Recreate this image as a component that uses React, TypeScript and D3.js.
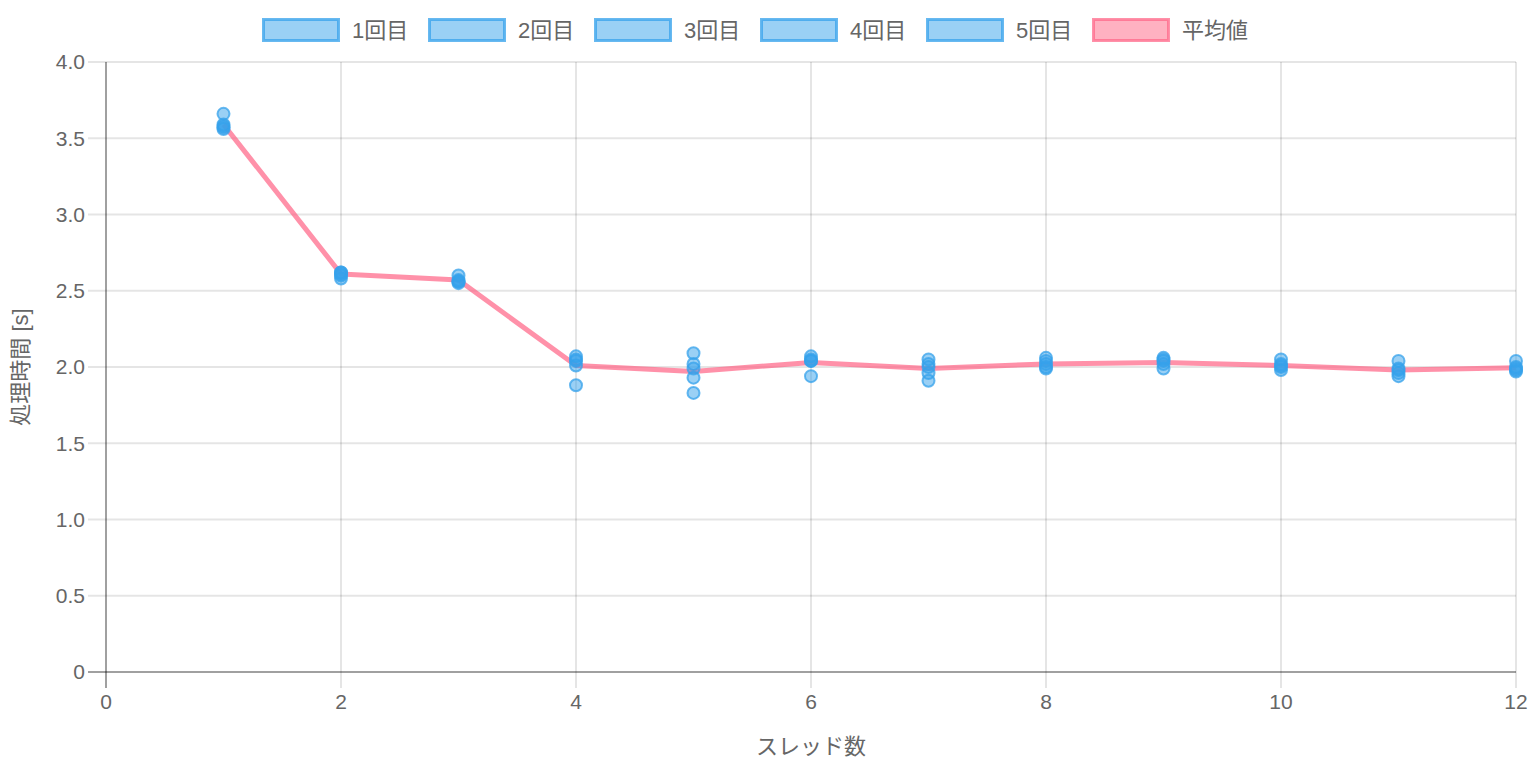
import React from "react";
import * as d3 from "d3";

const threads = [1, 2, 3, 4, 5, 6, 7, 8, 9, 10, 11, 12];
const run1 = [3.66, 2.62, 2.60, 2.07, 2.09, 2.07, 2.05, 2.06, 2.06, 2.05, 2.04, 2.04];
const run2 = [3.58, 2.61, 2.57, 2.05, 2.02, 2.05, 2.02, 2.04, 2.05, 2.02, 1.99, 2.00];
const run3 = [3.57, 2.60, 2.56, 2.04, 1.99, 2.04, 2.00, 2.02, 2.04, 2.01, 1.98, 1.99];
const run4 = [3.56, 2.58, 2.55, 1.88, 1.93, 2.04, 1.96, 2.00, 2.02, 2.00, 1.96, 1.98];
const run5 = [3.59, 2.62, 2.56, 2.01, 1.83, 1.94, 1.91, 1.99, 1.99, 1.98, 1.94, 1.97];
const average = [3.59, 2.61, 2.57, 2.01, 1.97, 2.03, 1.99, 2.02, 2.03, 2.01, 1.98, 1.995];
const runLabels = ["1回目", "2回目", "3回目", "4回目", "5回目"];
const avgLabel = "平均値";
const xTicks = [0, 2, 4, 6, 8, 10, 12];
const yTicks = [0, 0.5, 1.0, 1.5, 2.0, 2.5, 3.0, 3.5, 4.0];
const xTitle = "スレッド数";
const yTitle = "処理時間 [s]";

const runs = [run1, run2, run3, run4, run5];

const FONT = '"Liberation Sans", Arial, Helvetica, "Noto Sans CJK JP", sans-serif';
const BLUE_FILL = "rgba(54,162,235,0.5)";
const BLUE_STROKE = "rgba(54,162,235,0.75)";
const PINK_FILL = "rgba(255,99,132,0.5)";
const PINK_STROKE = "rgba(255,99,132,0.7)";
const TEXT = "#666";

export default function App() {
  const W = 1536, H = 768;
  const left = 106, right = 1516, top = 62, bottom = 672;
  const x = d3.scaleLinear().domain([0, 12]).range([left, right]);
  const y = d3.scaleLinear().domain([0, 4]).range([bottom, top]);
  const line = d3.line<number>().x((_, i) => x(threads[i])).y((d) => y(d));

  const legendItems = [...runLabels.map((l) => ({ label: l, fill: BLUE_FILL, stroke: BLUE_STROKE })), { label: avgLabel, fill: PINK_FILL, stroke: PINK_STROKE }];
  const legendStart = 262;
  const legendStep = 166;

  return (
    <svg width={W} height={H} style={{ position: "absolute", left: 0, top: 0, background: "#fff" }} fontFamily={FONT}>
      {/* grid */}
      {yTicks.map((t) => (
        <line key={"gy" + t} x1={left - 18} x2={right} y1={y(t)} y2={y(t)} stroke="rgba(0,0,0,0.1)" strokeWidth={2} />
      ))}
      {xTicks.map((t) => (
        <line key={"gx" + t} x1={x(t)} x2={x(t)} y1={top} y2={bottom + 16} stroke="rgba(0,0,0,0.1)" strokeWidth={2} />
      ))}
      {/* axes */}
      <line x1={left} x2={left} y1={top} y2={bottom + 16} stroke="rgba(0,0,0,0.3)" strokeWidth={2} />
      <line x1={left - 18} x2={right} y1={bottom} y2={bottom} stroke="rgba(0,0,0,0.3)" strokeWidth={2} />
      {/* tick labels */}
      {yTicks.map((t) => (
        <text key={"ty" + t} x={left - 21} y={y(t)} dy="0.35em" textAnchor="end" fontSize={21} fill={TEXT}>
          {t === 0 ? "0" : t.toFixed(1)}
        </text>
      ))}
      {xTicks.map((t) => (
        <text key={"tx" + t} x={x(t)} y={bottom + 30} dy="0.35em" textAnchor="middle" fontSize={21} fill={TEXT}>
          {t}
        </text>
      ))}
      {/* axis titles */}
      <text x={(left + right) / 2} y={746} dy="0.35em" textAnchor="middle" fontSize={22} fill={TEXT}>{xTitle}</text>
      <text transform={`translate(20, ${(top + bottom) / 2}) rotate(-90)`} dy="0.35em" textAnchor="middle" fontSize={22} fill={TEXT}>{yTitle}</text>
      {/* average line */}
      <path d={line(average) || ""} fill="none" stroke={PINK_STROKE} strokeWidth={5} strokeLinejoin="round" />
      {/* points */}
      {runs.slice().reverse().map((r, ri) => (
        <g key={"r" + ri}>
          {r.map((v, i) => (
            <circle key={i} cx={x(threads[i])} cy={y(v)} r={6} fill={BLUE_FILL} stroke={BLUE_STROKE} strokeWidth={2} />
          ))}
        </g>
      ))}
      {/* legend */}
      {legendItems.map((it, i) => {
        const lx = legendStart + i * legendStep;
        return (
          <g key={"lg" + i}>
            <rect x={lx + 1.5} y={19.5} width={75} height={21} fill={it.fill} stroke={it.stroke} strokeWidth={3} />
            <text x={lx + 90} y={30} dy="0.35em" fontSize={22} fill={TEXT}>{it.label}</text>
          </g>
        );
      })}
    </svg>
  );
}
